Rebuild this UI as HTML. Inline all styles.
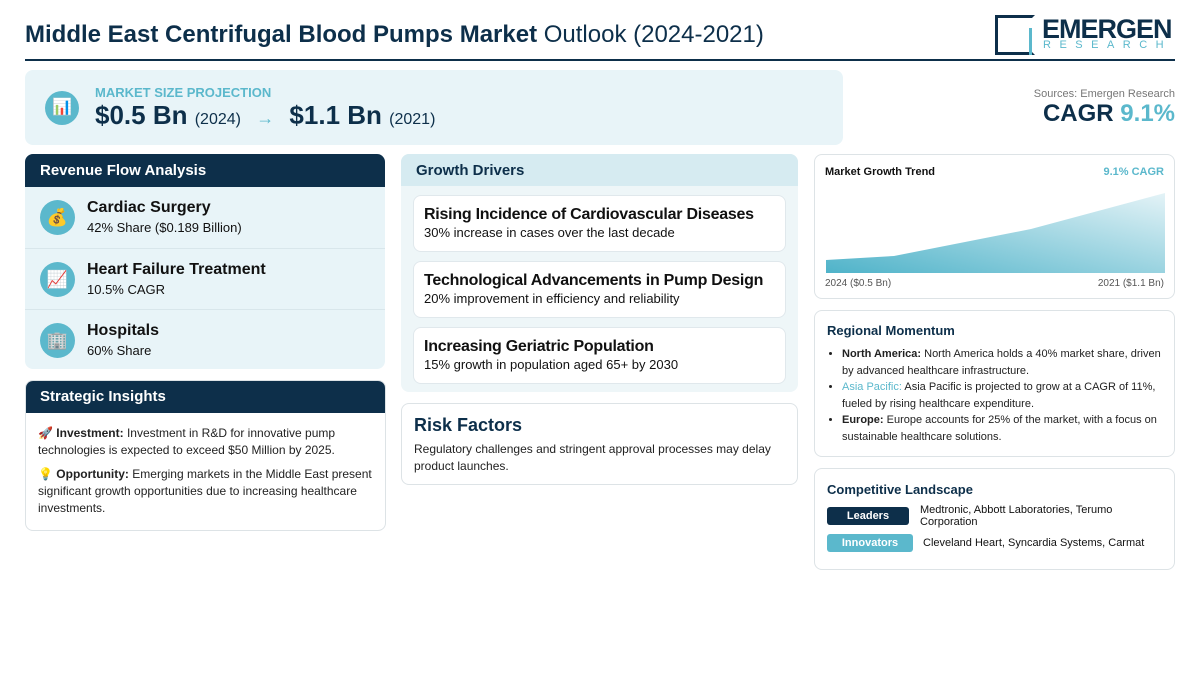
<!DOCTYPE html>
<html><head><meta charset="utf-8"><style>
*{margin:0;padding:0;box-sizing:border-box}
body{width:1200px;height:700px;background:#fff;font-family:"Liberation Sans",sans-serif;position:relative;overflow:hidden;color:#111}
.a{position:absolute}
.navy{color:#0d2f4a}
.teal{color:#5bb8cc}
.panel{position:absolute;border-radius:8px;overflow:hidden}
.hd{height:33px;background:#0d2f4a;color:#fff;font-weight:bold;font-size:15px;padding:8px 15px}
.row{height:61px;border-top:1px solid #d8e6eb;position:relative}
.ic{position:absolute;left:15px;top:13px;width:35px;height:35px;border-radius:50%;background:#5bb8cc;text-align:center;line-height:35px;font-size:17px}
.rt{position:absolute;left:62px;top:12px;font-size:16px;font-weight:bold}
.rs{position:absolute;left:62px;top:33px;font-size:13px}
.card{position:absolute;left:12px;width:373px;height:57px;background:#fff;border:1px solid #e0e8ec;border-radius:8px;padding:9px 10px}
.card b{display:block;font-size:16px;line-height:19px;white-space:nowrap;letter-spacing:-0.25px}
.card span{font-size:13px;line-height:18px}
.box{position:absolute;border:1px solid #dde3e6;border-radius:8px;background:#fff}
ul li{margin-left:15px;font-size:11px;line-height:16.5px;color:#222}
</style></head><body>
<div class="a navy" style="left:25px;top:21px;font-size:24px;white-space:nowrap"><b>Middle East Centrifugal Blood Pumps Market</b> Outlook (2024-2021)</div>
<div class="a" style="left:25px;top:59px;width:1150px;height:2px;background:#0d2f4a"></div>
<div class="a" style="left:995px;top:15px;width:40px;height:40px;border:3px solid #0d2f4a;border-right-color:transparent"></div>
<div class="a" style="left:1029px;top:28px;width:3px;height:27px;background:#5bb8cc"></div>
<div class="a navy" style="left:1042px;top:14px;font-size:27px;font-weight:bold;letter-spacing:-1px">EMERGEN</div>
<div class="a teal" style="left:1043px;top:39px;font-size:11px;letter-spacing:8.5px">RESEARCH</div>

<div class="a" style="left:25px;top:70px;width:818px;height:75px;background:#e8f4f8;border-radius:8px"></div>
<div class="a" style="left:45px;top:91px;width:34px;height:34px;border-radius:50%;background:#5bb8cc;text-align:center;line-height:34px;font-size:16px">📊</div>
<div class="a teal" style="left:95px;top:85px;font-size:13px;font-weight:bold">MARKET SIZE PROJECTION</div>
<div class="a navy" style="left:95px;top:100px;font-size:26px;font-weight:bold;white-space:nowrap">$0.5 Bn <span style="font-size:16px;font-weight:normal">(2024)</span> <span class="teal" style="font-size:18px;font-weight:normal;margin:0 8px">→</span> $1.1 Bn <span style="font-size:16px;font-weight:normal">(2021)</span></div>
<div class="a" style="right:25px;top:88px;font-size:11px;color:#777">Sources: Emergen Research</div>
<div class="a navy" style="right:25px;top:100px;font-size:24px;font-weight:bold">CAGR <span class="teal">9.1%</span></div>

<div class="panel" style="left:25px;top:154px;width:360px;height:215px;background:#e8f4f8">
<div class="hd">Revenue Flow Analysis</div>
<div class="row" style="border-top:none"><div class="ic">💰</div><div class="rt">Cardiac Surgery</div><div class="rs">42% Share ($0.189 Billion)</div></div>
<div class="row"><div class="ic">📈</div><div class="rt">Heart Failure Treatment</div><div class="rs">10.5% CAGR</div></div>
<div class="row"><div class="ic">🏢</div><div class="rt">Hospitals</div><div class="rs">60% Share</div></div>
</div>

<div class="panel" style="left:25px;top:380px;width:361px;height:151px;border:1px solid #dde3e6;background:#fff">
<div class="hd" style="margin:-1px -1px 0">Strategic Insights</div>
<div style="padding:12px 12px;font-size:12px;line-height:17px;color:#222">
<p>🚀 <b>Investment:</b> Investment in R&amp;D for innovative pump technologies is expected to exceed $50 Million by 2025.</p>
<p style="margin-top:7px">💡 <b>Opportunity:</b> Emerging markets in the Middle East present significant growth opportunities due to increasing healthcare investments.</p>
</div></div>

<div class="panel" style="left:401px;top:154px;width:397px;height:238px;background:#eef6f8">
<div class="hd navy" style="background:#d6ebf1;color:#0d2f4a;height:32px">Growth Drivers</div>
<div class="card" style="top:41px"><b>Rising Incidence of Cardiovascular Diseases</b><span>30% increase in cases over the last decade</span></div>
<div class="card" style="top:107px"><b>Technological Advancements in Pump Design</b><span>20% improvement in efficiency and reliability</span></div>
<div class="card" style="top:173px"><b>Increasing Geriatric Population</b><span>15% growth in population aged 65+ by 2030</span></div>
</div>

<div class="box" style="left:401px;top:403px;width:397px;height:82px;padding:11px 12px">
<div class="navy" style="font-size:18px;font-weight:bold">Risk Factors</div>
<div style="font-size:12px;line-height:17px;color:#222;margin-top:5px">Regulatory challenges and stringent approval processes may delay product launches.</div>
</div>

<div class="box" style="left:814px;top:154px;width:361px;height:145px">
<div class="a" style="left:10px;top:11px;font-size:11px;font-weight:bold">Market Growth Trend</div>
<div class="a teal" style="right:10px;top:11px;font-size:11px;font-weight:bold">9.1% CAGR</div>
<svg class="a" style="left:0;top:0" width="361" height="145"><defs><linearGradient id="g" x1="0" y1="1" x2="1" y2="0"><stop offset="0" stop-color="#4fb3c9"/><stop offset="1" stop-color="#e4f3f7"/></linearGradient></defs>
<path d="M11 105 L79 101 L216 74 L350 38 L350 118 L11 118Z" fill="url(#g)"/></svg>
<div class="a" style="left:10px;top:123px;font-size:10px;color:#555">2024 ($0.5 Bn)</div>
<div class="a" style="right:10px;top:123px;font-size:10px;color:#555">2021 ($1.1 Bn)</div>
</div>

<div class="box" style="left:814px;top:310px;width:361px;height:147px;padding:12px 12px">
<div class="navy" style="font-size:13px;font-weight:bold;margin-bottom:8px">Regional Momentum</div>
<ul>
<li><b>North America:</b> North America holds a 40% market share, driven by advanced healthcare infrastructure.</li>
<li><b class="teal" style="font-weight:normal">Asia Pacific:</b> Asia Pacific is projected to grow at a CAGR of 11%, fueled by rising healthcare expenditure.</li>
<li><b>Europe:</b> Europe accounts for 25% of the market, with a focus on sustainable healthcare solutions.</li>
</ul></div>

<div class="box" style="left:814px;top:468px;width:361px;height:102px">
<div class="a navy" style="left:12px;top:13px;font-size:13px;font-weight:bold">Competitive Landscape</div>
<div class="a" style="left:12px;top:38px;width:82px;height:18px;background:#0d2f4a;border-radius:3px;color:#fff;font-size:11px;font-weight:bold;text-align:center;line-height:18px">Leaders</div>
<div class="a" style="left:105px;top:35px;font-size:11px;line-height:12px;width:220px">Medtronic, Abbott Laboratories, Terumo Corporation</div>
<div class="a" style="left:12px;top:65px;width:86px;height:18px;background:#5bb8cc;border-radius:3px;color:#fff;font-size:11px;font-weight:bold;text-align:center;line-height:18px">Innovators</div>
<div class="a" style="left:108px;top:68px;font-size:11px">Cleveland Heart, Syncardia Systems, Carmat</div>
</div>
</body></html>
